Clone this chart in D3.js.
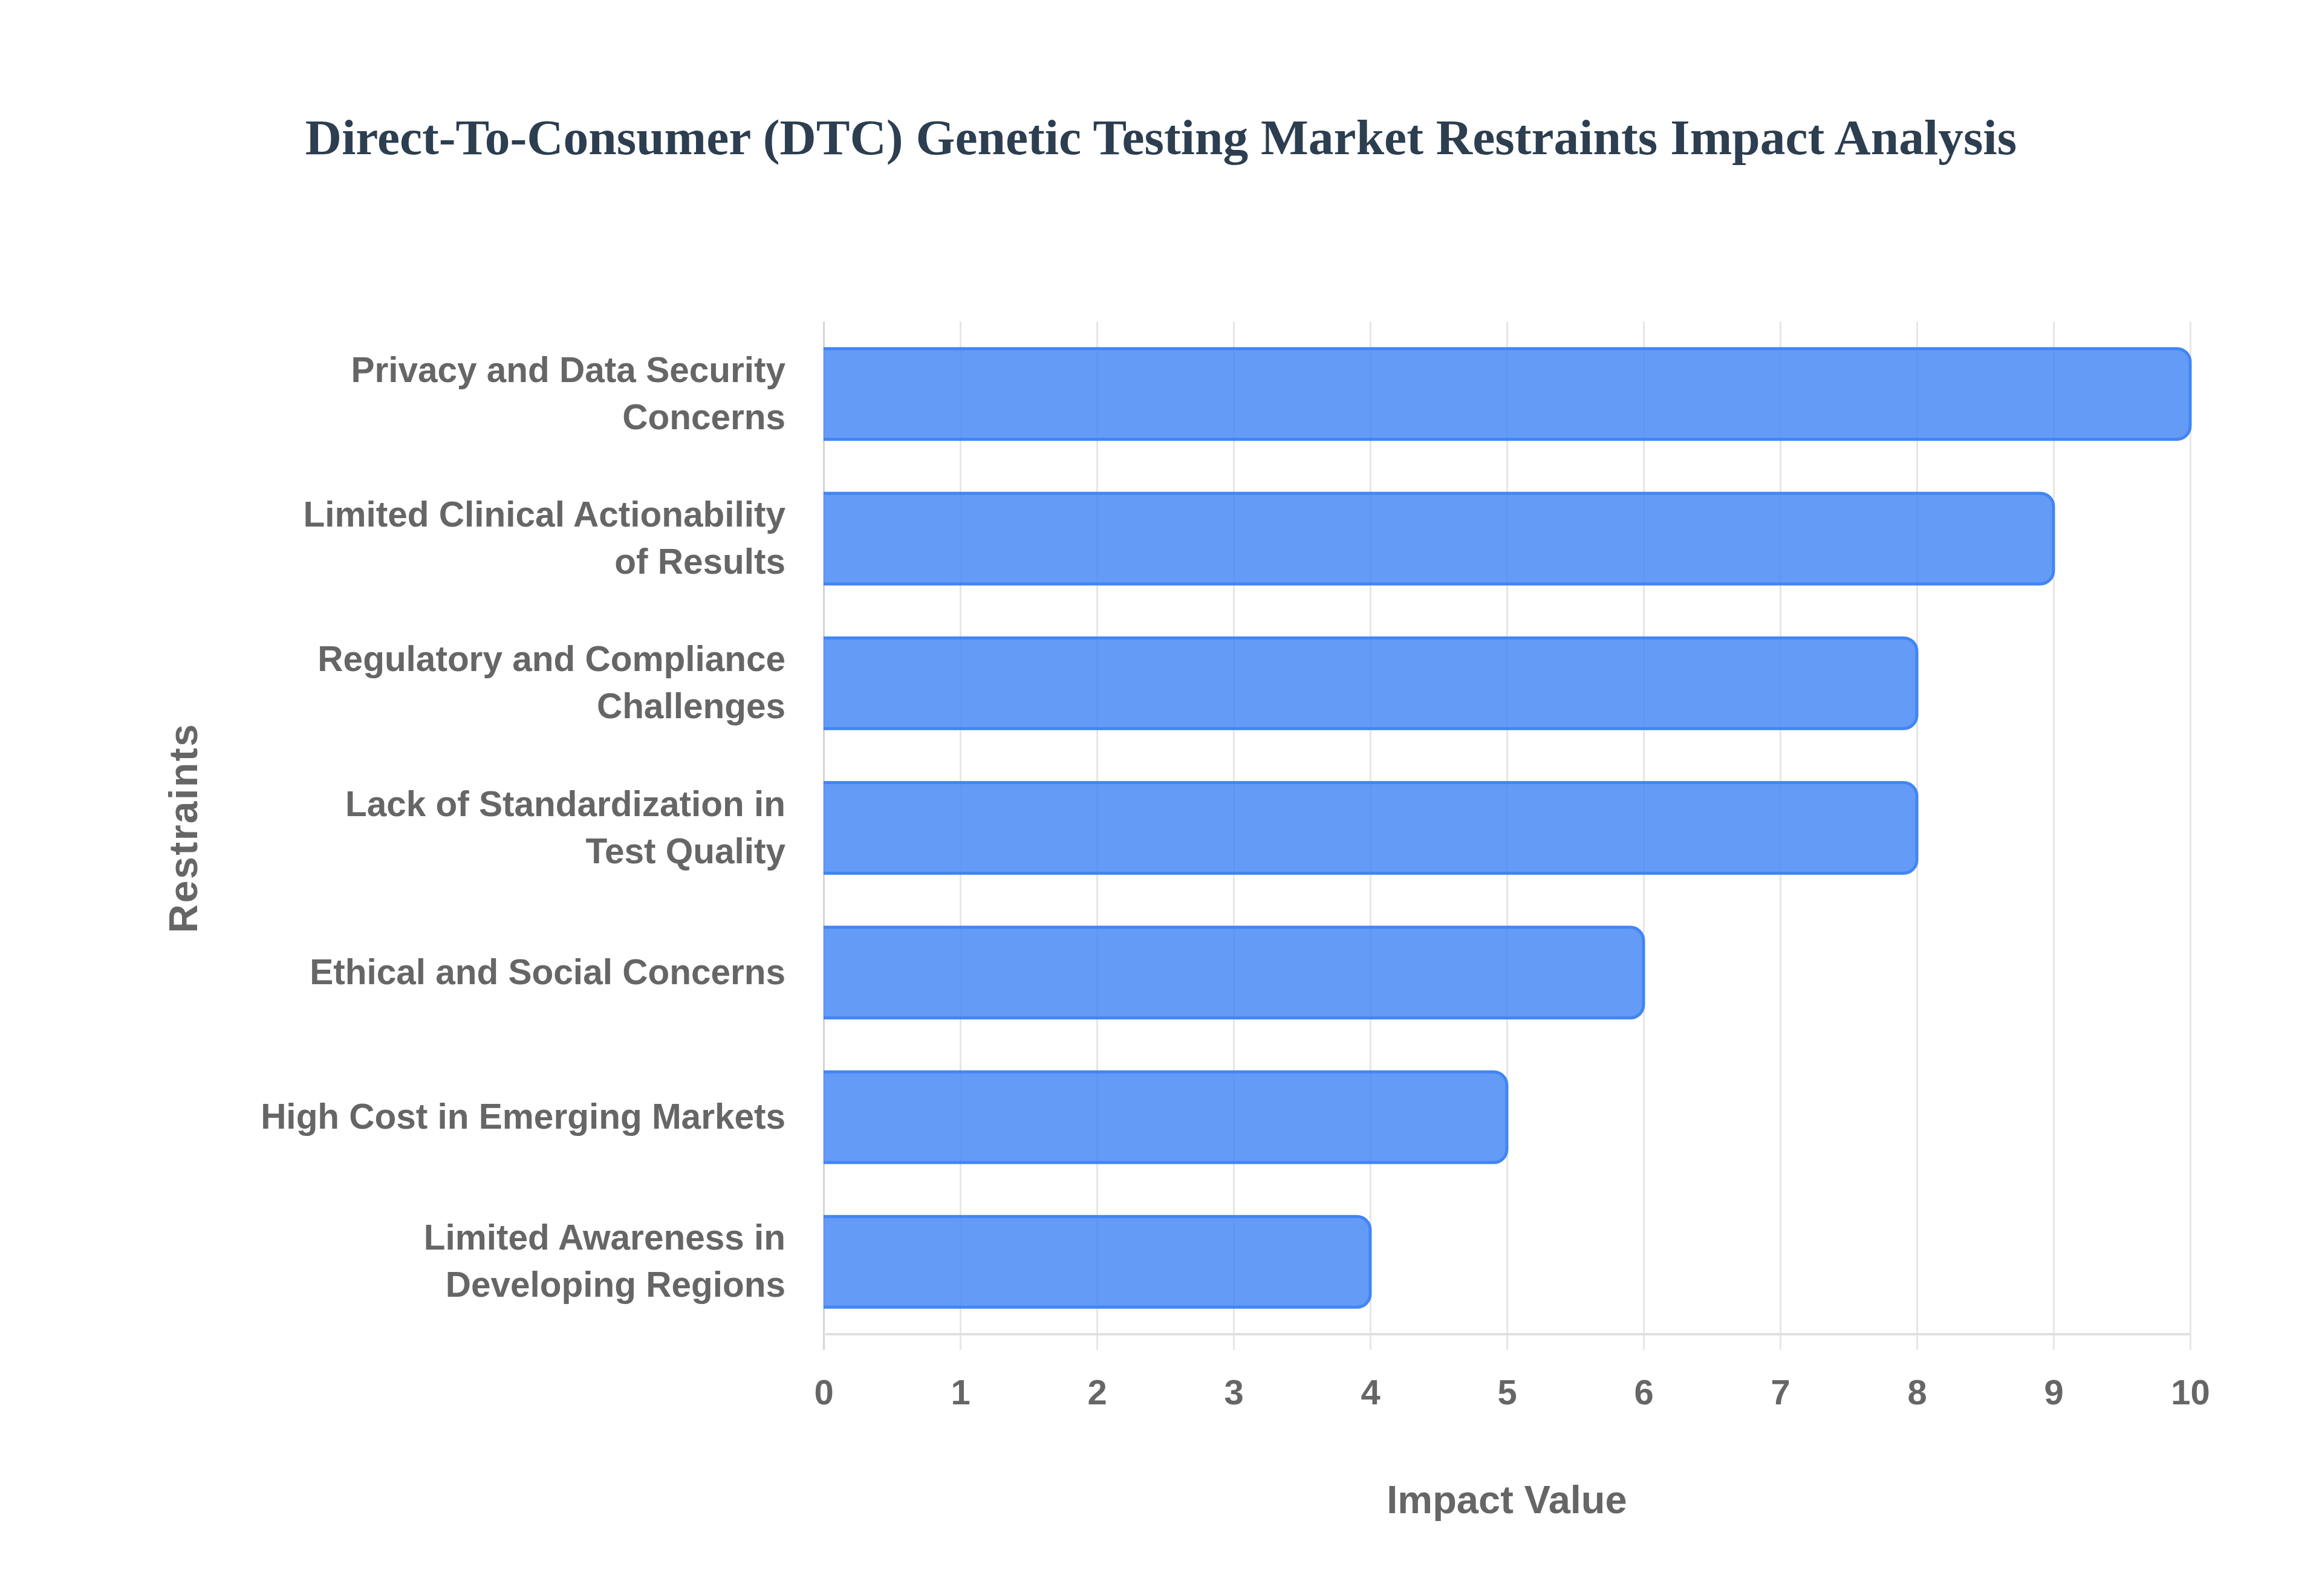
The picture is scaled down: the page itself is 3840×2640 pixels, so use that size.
<!DOCTYPE html>
<html>
<head>
<meta charset="utf-8">
<script src="https://cdn.jsdelivr.net/npm/d3@7"></script>
<style>
    html, body { margin: 0; padding: 0; background: #ffffff; }
    svg { display: block; }
</style>
</head>
<body>
<div id="chart"></div>
<script>
// Chart data
const restraints = [
    "Privacy and Data Security Concerns",
    "Limited Clinical Actionability of Results",
    "Regulatory and Compliance Challenges",
    "Lack of Standardization in Test Quality",
    "Ethical and Social Concerns",
    "High Cost in Emerging Markets",
    "Limited Awareness in Developing Regions"
];
const labelLines = [
    ["Privacy and Data Security", "Concerns"],
    ["Limited Clinical Actionability", "of Results"],
    ["Regulatory and Compliance", "Challenges"],
    ["Lack of Standardization in", "Test Quality"],
    ["Ethical and Social Concerns"],
    ["High Cost in Emerging Markets"],
    ["Limited Awareness in", "Developing Regions"]
];
const impactValues = [10, 9, 8, 8, 6, 5, 4];
const xTicks = [0, 1, 2, 3, 4, 5, 6, 7, 8, 9, 10];

const chartTitle = "Direct-To-Consumer (DTC) Genetic Testing Market Restraints Impact Analysis";
const xTitle = "Impact Value";
const yTitle = "Restraints";

var drawRestraintsChart = function(slide = "#chart") {
    // set dimensions
    var W = 3840, H = 2640;
    var margin = {top: 532, right: 218, bottom: 433, left: 1362},
        width = W - margin.left - margin.right,
        height = H - margin.top - margin.bottom;

    var sans = "'Liberation Sans', Arial, Helvetica, sans-serif";

    let root = d3.select(slide)
        .append("svg")
        .attr("width", W)
        .attr("height", H);

    root.append("rect")
        .attr("width", W)
        .attr("height", H)
        .attr("fill", "#ffffff");

    // Title
    root.append("text")
        .attr("x", W / 2)
        .attr("y", 255)
        .attr("text-anchor", "middle")
        .style("font-family", "'Liberation Serif', 'Times New Roman', serif")
        .style("font-weight", "bold")
        .style("font-size", "83.5px")
        .style("fill", "#2c3e50")
        .text(chartTitle);

    let svg = root.append("g")
        .attr("transform", "translate(" + margin.left + "," + margin.top + ")");

    // Scales
    var x = d3.scaleLinear()
        .domain([0, 10])
        .range([0, width]);

    var y = d3.scaleBand()
        .domain(restraints)
        .range([0, height])
        .paddingInner(0.373)
        .paddingOuter(0.1865);

    // Vertical grid lines (extend a little below the axis like tick marks)
    var tickLen = 26;
    svg.append("g")
        .attr("transform", "translate(0," + (height + tickLen) + ")")
        .call(d3.axisBottom(x).tickValues(xTicks).tickSize(-(height + tickLen)).tickFormat(""))
        .call(g => g.select(".domain").remove())
        .call(g => g.selectAll(".tick line")
            .attr("stroke", (d) => d === 0 ? "#d4d4d4" : "#e6e6e6")
            .attr("stroke-width", 3));

    // Bottom axis line
    svg.append("line")
        .attr("x1", x(0))
        .attr("x2", x(10))
        .attr("y1", height)
        .attr("y2", height)
        .attr("stroke", "#e0e0e0")
        .attr("stroke-width", 4);

    // X tick labels
    svg.append("g")
        .attr("transform", "translate(0," + height + ")")
        .call(d3.axisBottom(x).tickValues(xTicks).tickSize(0).tickPadding(75).tickFormat(d3.format("d")))
        .call(g => g.select(".domain").remove())
        .call(g => g.selectAll(".tick text")
            .style("font-family", sans)
            .style("font-weight", "bold")
            .style("font-size", "58px")
            .style("fill", "#666666"));

    // Bars: rounded on the value end, border skipped at the base
    var r = 22;
    var bars = restraints.map((name, i) => ({name: name, value: impactValues[i]}));

    const barPath = function(d, closed) {
        let x0 = x(0), x1 = x(d.value);
        let y0 = y(d.name), y1 = y(d.name) + y.bandwidth();
        let p = d3.path();
        p.moveTo(x0, y0);
        p.lineTo(x1 - r, y0);
        p.arcTo(x1, y0, x1, y0 + r, r);
        p.lineTo(x1, y1 - r);
        p.arcTo(x1, y1, x1 - r, y1, r);
        p.lineTo(x0, y1);
        if (closed) p.closePath();
        return p.toString();
    };

    svg.append("g")
        .selectAll("path")
        .data(bars)
        .enter()
        .append("path")
        .attr("d", (d) => barPath(d, true))
        .attr("fill", "rgba(66,133,244,0.82)");

    svg.append("g")
        .selectAll("path")
        .data(bars)
        .enter()
        .append("path")
        .attr("d", (d) => barPath(d, false))
        .attr("fill", "none")
        .attr("stroke", "#4285f4")
        .attr("stroke-width", 5);

    // Category labels (wrapped)
    var lineGap = 78;
    let labels = svg.append("g")
        .selectAll("text")
        .data(restraints)
        .enter()
        .append("text")
        .attr("text-anchor", "end")
        .style("font-family", sans)
        .style("font-weight", "bold")
        .style("font-size", "58.5px")
        .style("fill", "#666666");

    labels.each(function(name, i) {
        let lines = labelLines[i];
        let cy = y(name) + y.bandwidth() / 2;
        d3.select(this).selectAll("tspan")
            .data(lines)
            .enter()
            .append("tspan")
            .attr("x", -63)
            .attr("y", (l, j) => cy + 19 + (j - (lines.length - 1) / 2) * lineGap)
            .text((l) => l);
    });

    // X axis title
    svg.append("text")
        .attr("text-anchor", "middle")
        .attr("x", width / 2)
        .attr("y", 2503 - margin.top)
        .style("font-family", sans)
        .style("font-weight", "bold")
        .style("font-size", "65px")
        .style("fill", "#666666")
        .text(xTitle);

    // Y axis title
    svg.append("text")
        .attr("text-anchor", "middle")
        .attr("transform", "translate(" + (326 - margin.left) + "," + (height / 2) + ") rotate(-90)")
        .style("font-family", sans)
        .style("font-weight", "bold")
        .style("font-size", "66px")
        .style("letter-spacing", "2.5px")
        .style("fill", "#666666")
        .text(yTitle);
};

drawRestraintsChart();
</script>
</body>
</html>
